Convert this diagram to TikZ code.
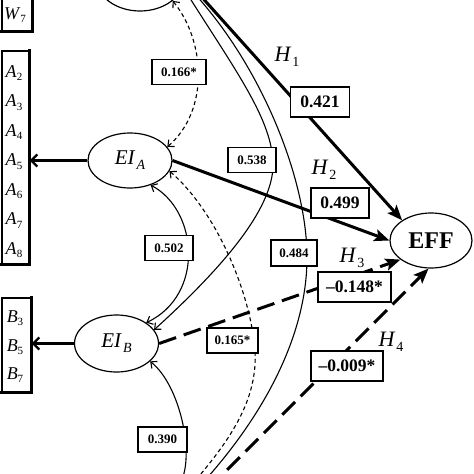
\documentclass[tikz,border=0pt]{standalone}
\usepackage{fontspec}
\setmainfont{Liberation Serif}
\usetikzlibrary{arrows.meta,shapes.geometric}
\newcommand\Avar[2]{\textit{#1}\raisebox{-3.5pt}{\fontsize{11}{11}\selectfont #2}}
\newcommand\Hvar[1]{\textit{H}\kern1pt\raisebox{-5pt}{\fontsize{14}{14}\selectfont #1}}
\newcommand\EIvar[1]{\textit{EI}\kern1pt\raisebox{-5pt}{\fontsize{14}{14}\selectfont\itshape #1}}
\tikzset{
  lat/.style={draw, ellipse, line width=1.2pt, inner sep=0pt, font=\fontsize{21}{21}\selectfont},
  obsbox/.style={draw, line width=1.4pt, fill=white, inner sep=0pt},
  item/.style={inner sep=0pt, font=\fontsize{18}{18}\selectfont},
  bignum/.style={draw, fill=white, line width=1.3pt, inner sep=0pt, minimum height=30pt, font=\fontsize{17.5}{17.5}\selectfont\bfseries},
  smallnum/.style={draw, fill=white, line width=1.1pt, inner sep=0pt, minimum height=25pt, font=\fontsize{13}{13}\selectfont\bfseries},
  hlab/.style={inner sep=0pt, font=\fontsize{22}{22}\selectfont},
  reg/.style={line width=3pt, -{Stealth[length=15pt,width=12pt,inset=3pt]}},
  regd/.style={reg, dash pattern=on 18pt off 8pt},
  ind/.style={line width=2.2pt, -{Straight Barb[length=6pt,width=12pt]}},
  cov/.style={line width=1.1pt, {Straight Barb[length=5pt,width=9pt]}-{Straight Barb[length=5pt,width=9pt]}},
  covd/.style={cov, dash pattern=on 4pt off 3pt},
  shadowedge/.style={line width=2.6pt, line cap=rect}
}
\begin{document}
\begin{tikzpicture}[x=1pt,y=-1pt]
\useasboundingbox (0,0) rectangle (474,474);
\clip (0,0) rectangle (474,474);

% latent variables
\node[lat, minimum width=88pt, minimum height=66pt] (EIW) at (140,-22) {};
\node[lat, minimum width=84pt, minimum height=55pt] (EIA) at (130,160.5) {\EIvar{A}};
\node[lat, minimum width=84pt, minimum height=57pt] (EIB) at (116.5,343.5) {\EIvar{B}};
\node[lat, minimum width=82pt, minimum height=55pt, font=\fontsize{24}{24}\selectfont\bfseries] (EFF) at (431,240.5) {EFF};
\node[lat, minimum width=84pt, minimum height=56pt] (EIC) at (185,512) {};

% indicator boxes
\node[obsbox, minimum width=30pt, minimum height=100pt] (Wbox) at (17,-19) {};
\draw[shadowedge] (Wbox.north east) -- (Wbox.south east) -- (Wbox.south west);
\node[item] (w7) at (15,15) {\Avar{W}{7}};
\node[obsbox, minimum width=27pt, minimum height=213pt] (Abox) at (15.5,157.5) {};
\draw[shadowedge] (Abox.north east) -- (Abox.south east) -- (Abox.south west);
\foreach \i [count=\k from 0] in {2,...,8}
  \node[item] (a\i) at (14,73+29.5*\k) {\Avar{A}{\i}};
\node[obsbox, minimum width=29pt, minimum height=94pt] (Bbox) at (16.5,345) {};
\draw[shadowedge] (Bbox.north east) -- (Bbox.south east) -- (Bbox.south west);
\node[item] (b3) at (15,318) {\Avar{B}{3}};
\node[item] (b5) at (15,347) {\Avar{B}{5}};
\node[item] (b7) at (15,375) {\Avar{B}{7}};

\draw[ind] (EIA.west) -- (Abox.east |- EIA.west);
\draw[ind] (EIB.west) -- (Bbox.east |- EIB.west);

% covariances
\draw[covd] (EIW.-35) .. controls (205,40) and (210,110) .. (EIA.20);
\draw[cov] (EIW.-12) .. controls (235,70) and (273,120) .. (273,165)
           .. controls (273,210) and (220,270) .. (EIB.20);
\draw[cov] (EIW.-6) .. controls (260,60) and (308,180) .. (307,260)
           .. controls (306,340) and (260,420) .. (EIC.60);
\draw[cov] (EIA.-50) .. controls (198,210) and (205,295) .. (EIB.35);
\draw[covd] (EIA.-15) .. controls (215,210) and (250,290) .. (255,350)
           .. controls (258,400) and (230,440) .. (EIC.75);
\draw[cov] (EIB.-28) .. controls (180,385) and (195,455) .. (EIC.100);

% structural paths
\draw[reg] (EIW.east) -- (EFF.145);
\draw[reg] (EIA.east) -- (EFF.west);
\draw[regd] (EIB.east) -- (EFF.212);
\draw[regd] (EIC) -- (EFF.265);

% labels
\node[hlab] (h1) at (287,57) {\Hvar{1}};
\node[hlab] (h2) at (324,170) {\Hvar{2}};
\node[hlab] (h3) at (352,258) {\Hvar{3}};
\node[hlab] (h4) at (391,342) {\Hvar{4}};

\node[bignum, minimum width=59pt] (n421) at (320,102) {0.421};
\node[bignum, minimum width=58pt] (n499) at (340,203) {0.499};
\node[bignum, minimum width=73pt] (n148) at (354.5,287) {–0.148*};
\node[bignum, minimum width=72pt] (n009) at (347,366) {–0.009*};

\node[smallnum, minimum width=54pt] (n166) at (179,72) {0.166*};
\node[smallnum, minimum width=48pt] (n538) at (252,160) {0.538};
\node[smallnum, minimum width=48pt] (n502) at (169,248) {0.502};
\node[smallnum, minimum width=46pt, minimum height=26pt] (n484) at (294,253) {0.484};
\node[smallnum, minimum width=51pt] (n165) at (232.5,340.5) {0.165*};
\node[smallnum, minimum width=49pt] (n390) at (162.5,439.5) {0.390};
\end{tikzpicture}
\end{document}
